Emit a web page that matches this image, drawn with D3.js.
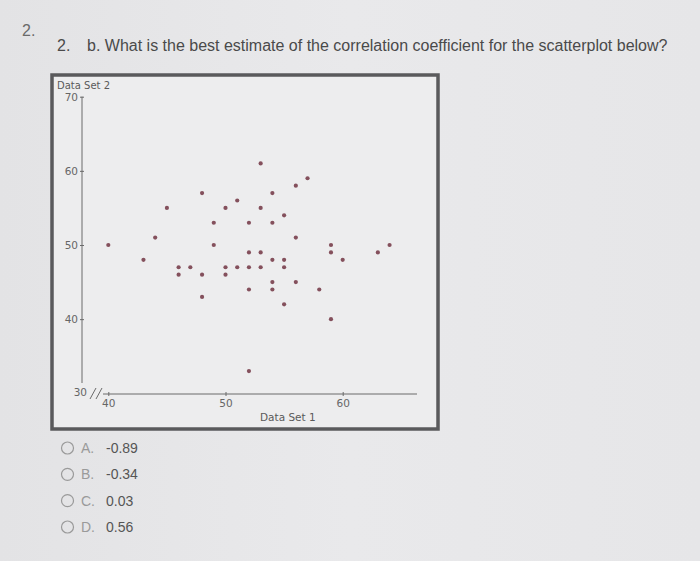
<!DOCTYPE html>
<html>
<head>
<meta charset="utf-8">
<script src="https://cdn.jsdelivr.net/npm/d3@7"></script>
<style>
  html, body { margin: 0; padding: 0; background: #e6e6e8; }
  svg { display: block; }
</style>
</head>
<body>
<svg id="chart" width="700" height="561"></svg>
<script>
// ---- data ----
const dataSet1 = [40,43,44,45,46,46,47,48,48,48,49,49,50,50,50,51,51,52,52,52,52,52,53,53,53,53,54,54,54,54,54,55,55,55,55,56,56,56,57,58,59,59,59,60,63,64];
const dataSet2 = [50,48,51,55,47,46,47,57,46,43,53,50,55,47,46,56,47,53,49,47,44,33,61,55,49,47,57,53,48,45,44,54,48,47,42,58,51,45,59,44,50,49,40,48,49,50];
const xTicks = [40, 50, 60];
const yTicks = [30, 40, 50, 60, 70];
const optionLetters = ["A.", "B.", "C.", "D."];
const optionValues = ["-0.89", "-0.34", "0.03", "0.56"];
const questionNumber = "2.";
const questionText = "b. What is the best estimate of the correlation coefficient for the scatterplot below?";
const xLabel = "Data Set 1";
const yLabel = "Data Set 2";

const svg = d3.select("#chart");

// background with subtle light region
const defs = svg.append("defs");
const grad = defs.append("linearGradient").attr("id", "bg").attr("x1", "0").attr("y1", "0").attr("x2", "1").attr("y2", "0");
grad.append("stop").attr("offset", "0").attr("stop-color", "#e3e3e5");
grad.append("stop").attr("offset", "0.5").attr("stop-color", "#e9e9eb");
grad.append("stop").attr("offset", "1").attr("stop-color", "#e6e6e8");
svg.append("rect").attr("width", 700).attr("height", 561).attr("fill", "url(#bg)");

// page texts
svg.append("text").attr("x", 22).attr("y", 36)
  .attr("font-family", "Liberation Sans, Arial, sans-serif").attr("font-size", 16)
  .attr("fill", "#6a6a6a").text("2.");
svg.append("text").attr("x", 57).attr("y", 51)
  .attr("font-family", "Liberation Sans, Arial, sans-serif").attr("font-size", 16)
  .attr("fill", "#4a4a4a").text(questionNumber);
svg.append("text").attr("x", 87).attr("y", 51)
  .attr("font-family", "Liberation Sans, Arial, sans-serif").attr("font-size", 16)
  .attr("fill", "#4a4a4a").text(questionText);

// chart panel
svg.append("rect").attr("x", 52).attr("y", 75).attr("width", 386).attr("height", 354)
  .attr("fill", "#ededee").attr("stroke", "#5a5a5c").attr("stroke-width", 3.5);

// scales
const x = d3.scaleLinear().domain([40, 60]).range([108.3, 342.7]);
const y = d3.scaleLinear().domain([30, 70]).range([393.3, 96.7]);

const axisColor = "#6a6a6a";
const tickFont = "DejaVu Sans, Verdana, sans-serif";

// y axis
const yAxisX = 82;
svg.append("line").attr("x1", yAxisX).attr("x2", yAxisX)
  .attr("y1", y(70)).attr("y2", 383)
  .attr("stroke", axisColor).attr("stroke-width", 1);
const yAxis = svg.append("g").attr("transform", `translate(${yAxisX},0)`)
  .call(d3.axisLeft(y).tickValues(yTicks).tickSizeInner(2).tickSizeOuter(0).tickPadding(2));
yAxis.select(".domain").remove();
yAxis.selectAll(".tick line").attr("stroke", axisColor).attr("x2", 2).attr("x1", -2);
yAxis.selectAll(".tick").filter(d => d === 30).select("line").remove();
yAxis.selectAll(".tick text").attr("font-family", tickFont).attr("font-size", 10.5).attr("fill", "#666");
yAxis.selectAll(".tick").filter(d => d === 30).select("text").attr("x", 5).attr("dy", "0.2em");

// x axis
const xAxisY = 394;
svg.append("line").attr("x1", 103).attr("x2", 417)
  .attr("y1", xAxisY).attr("y2", xAxisY)
  .attr("stroke", axisColor).attr("stroke-width", 1);
const xAxis = svg.append("g").attr("transform", `translate(0,${xAxisY})`)
  .call(d3.axisBottom(x).tickValues(xTicks).tickSizeInner(2).tickSizeOuter(0).tickPadding(2));
xAxis.select(".domain").remove();
xAxis.selectAll(".tick line").attr("stroke", axisColor).attr("y1", -2).attr("y2", 2);
xAxis.selectAll(".tick text").attr("font-family", tickFont).attr("font-size", 10.5).attr("fill", "#666").attr("dy", "0.9em");

// axis break marks "//"
[90, 96].forEach(bx => {
  svg.append("line").attr("x1", bx).attr("y1", xAxisY + 5).attr("x2", bx + 6).attr("y2", xAxisY - 6)
    .attr("stroke", axisColor).attr("stroke-width", 1);
});

// axis labels
svg.append("text").attr("x", 57).attr("y", 89)
  .attr("font-family", tickFont).attr("font-size", 10).attr("fill", "#5a5a5a").text(yLabel);
svg.append("text").attr("x", 260).attr("y", 421)
  .attr("font-family", tickFont).attr("font-size", 10.5).attr("fill", "#5a5a5a").text(xLabel);

// points
svg.append("g").selectAll("circle")
  .data(dataSet1.map((d, i) => [d, dataSet2[i]]))
  .join("circle")
  .attr("cx", d => x(d[0]))
  .attr("cy", d => y(d[1]))
  .attr("r", 2.1)
  .attr("fill", "#84505c");

// answer options
const optY = d3.scalePoint().domain(optionLetters).range([448, 527]);
const opts = svg.append("g").selectAll("g").data(optionLetters).join("g")
  .attr("transform", d => `translate(0,${optY(d)})`);
opts.append("circle").attr("cx", 67.5).attr("cy", 0).attr("r", 6)
  .attr("fill", "none").attr("stroke", "#9a9a9a").attr("stroke-width", 1.2);
opts.append("text").attr("x", 81).attr("y", 5)
  .attr("font-family", "Liberation Sans, Arial, sans-serif").attr("font-size", 14)
  .attr("fill", "#9a9a9a").text(d => d);
opts.append("text").attr("x", 106).attr("y", 5)
  .attr("font-family", "Liberation Sans, Arial, sans-serif").attr("font-size", 14)
  .attr("fill", "#555").text((d, i) => optionValues[i]);
</script>
</body>
</html>
